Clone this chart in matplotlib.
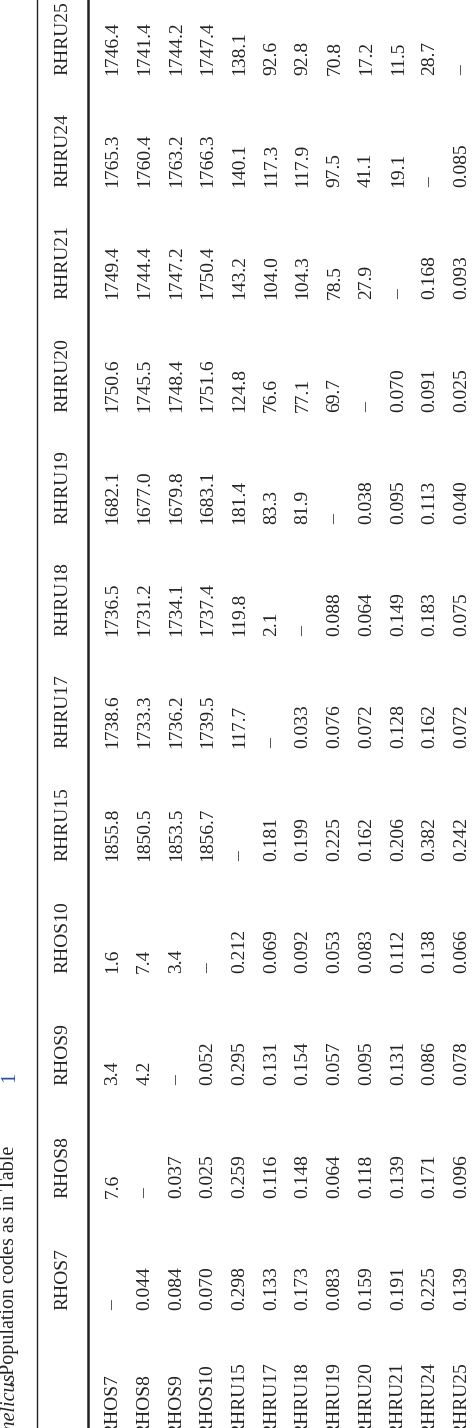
import matplotlib.pyplot as plt

pops = ['RHOS7', 'RHOS8', 'RHOS9', 'RHOS10', 'RHRU15', 'RHRU17', 'RHRU18',
        'RHRU19', 'RHRU20', 'RHRU21', 'RHRU24', 'RHRU25']

# one list per table row, '–' on the diagonal
rows = [
    ['–', '7.6', '3.4', '1.6', '1855.8', '1738.6', '1736.5', '1682.1', '1750.6', '1749.4', '1765.3', '1746.4'],
    ['0.044', '–', '4.2', '7.4', '1850.5', '1733.3', '1731.2', '1677.0', '1745.5', '1744.4', '1760.4', '1741.4'],
    ['0.084', '0.037', '–', '3.4', '1853.5', '1736.2', '1734.1', '1679.8', '1748.4', '1747.2', '1763.2', '1744.2'],
    ['0.070', '0.025', '0.052', '–', '1856.7', '1739.5', '1737.4', '1683.1', '1751.6', '1750.4', '1766.3', '1747.4'],
    ['0.298', '0.259', '0.295', '0.212', '–', '117.7', '119.8', '181.4', '124.8', '143.2', '140.1', '138.1'],
    ['0.133', '0.116', '0.131', '0.069', '0.181', '–', '2.1', '83.3', '76.6', '104.0', '117.3', '92.6'],
    ['0.173', '0.148', '0.154', '0.092', '0.199', '0.033', '–', '81.9', '77.1', '104.3', '117.9', '92.8'],
    ['0.083', '0.064', '0.057', '0.053', '0.225', '0.076', '0.088', '–', '69.7', '78.5', '97.5', '70.8'],
    ['0.159', '0.118', '0.095', '0.083', '0.162', '0.072', '0.064', '0.038', '–', '27.9', '41.1', '17.2'],
    ['0.191', '0.139', '0.131', '0.112', '0.206', '0.128', '0.149', '0.095', '0.070', '–', '19.1', '11.5'],
    ['0.225', '0.171', '0.086', '0.138', '0.382', '0.162', '0.183', '0.113', '0.091', '0.168', '–', '28.7'],
    ['0.139', '0.096', '0.078', '0.066', '0.242', '0.072', '0.075', '0.040', '0.025', '0.093', '0.085', '–'],
]

W, H = 474, 1428
fig = plt.figure(figsize=(W / 100, H / 100), dpi=100)
ax = fig.add_axes([0, 0, 1, 1])
ax.set_xlim(0, W)
ax.set_ylim(H, 0)
ax.axis('off')

font = dict(family='Liberation Serif', fontsize=14, rotation=90,
            ha='center', va='bottom', color='#222222')
cap = {**font, 'fontsize': 14.5}

row_x = [113 + 31.7 * i for i in range(len(pops))]
col_y = [1310 - 112.3 * j for j in range(len(pops))]
label_y = 1436

# caption (cut at the bottom edge like the source page)
ax.text(10, 1452, 'rumelicus', style='italic', **cap)
ax.text(10, 1385, '. Population codes as in Table', **cap)
ax.text(10, 1082, '1', **{**cap, 'color': '#2a4fa0'})

ax.axvline(37, color='#222222', lw=1.0)
ax.axvline(88, color='#222222', lw=1.8)

for j, p in enumerate(pops):
    ax.text(63, col_y[j], p, **font)
for i, p in enumerate(pops):
    ax.text(row_x[i], label_y, p, **font)
    for j, v in enumerate(rows[i]):
        ax.text(row_x[i], col_y[j], v, **font)

fig.savefig('out.png', dpi=100)
